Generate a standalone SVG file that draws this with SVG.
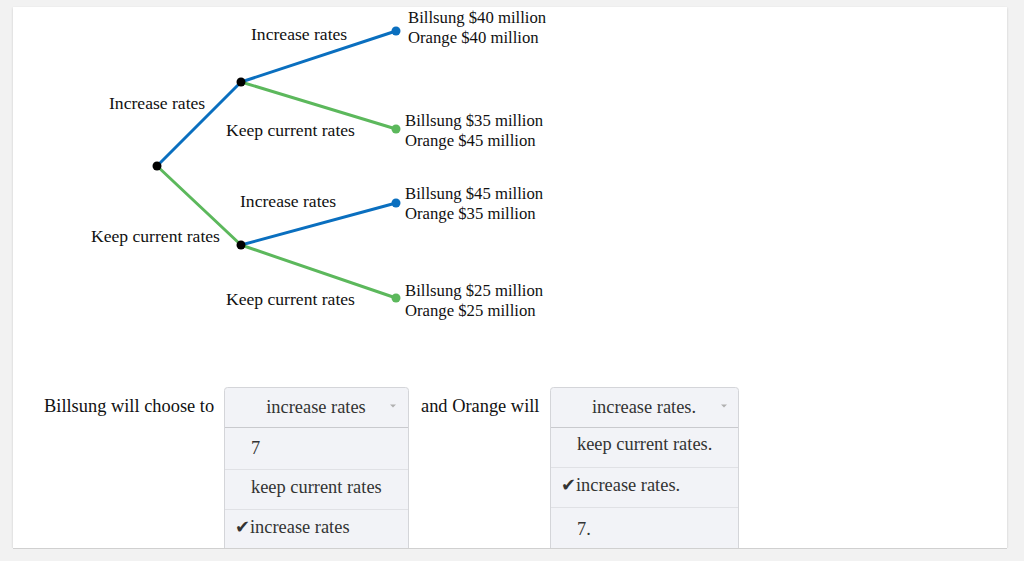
<svg xmlns="http://www.w3.org/2000/svg" width="1024" height="561" viewBox="0 0 1024 561">
<style>
text{font-family:"Liberation Serif","Times New Roman",serif;fill:#111}
.t{font-size:17.6px}
.v{font-size:16.7px}
.d{font-size:18.4px}
.dd{font-size:18.4px;fill:#333}
.b{stroke:#0a6fbf;stroke-width:3;fill:none;stroke-linecap:round}
.g{stroke:#5cb85c;stroke-width:3;fill:none;stroke-linecap:round}
.box{fill:#f2f3f7;stroke:#d4d5d9;stroke-width:1}
.sep{stroke:#e0e1e5;stroke-width:1}
</style>
<defs>
<filter id="sh" x="-5%" y="-5%" width="110%" height="110%"><feDropShadow dx="0" dy="1" stdDeviation="1" flood-color="#000" flood-opacity="0.18"/></filter>
</defs>
<rect width="1024" height="561" fill="#f2f2f2"/>
<rect x="13" y="7" width="994" height="541" fill="#fff" filter="url(#sh)"/>
<g id="connectors">
<line class="b" x1="157" y1="166" x2="241" y2="82"/>
<line class="g" x1="157" y1="166" x2="241" y2="245"/>
<line class="b" x1="241" y1="82" x2="396" y2="31"/>
<line class="g" x1="241" y1="82" x2="396" y2="129"/>
<line class="b" x1="241" y1="245" x2="396" y2="203"/>
<line class="g" x1="241" y1="245" x2="396" y2="298"/>
</g>
<g id="root"><circle cx="157" cy="166" r="4.5" fill="#000"/></g>
<g id="mid1"><circle cx="241" cy="82" r="4.5" fill="#000"/></g>
<g id="mid2"><circle cx="241" cy="245" r="4.5" fill="#000"/></g>
<g id="leaf1"><circle cx="396" cy="31" r="4.5" fill="#0a6fbf"/><text class="v" x="408" y="23">Billsung $40 million</text><text class="v" x="408" y="43">Orange $40 million</text></g>
<g id="leaf2"><circle cx="396" cy="129" r="4.5" fill="#5cb85c"/><text class="v" x="405" y="126">Billsung $35 million</text><text class="v" x="405" y="146">Orange $45 million</text></g>
<g id="leaf3"><circle cx="396" cy="203" r="4.5" fill="#0a6fbf"/><text class="v" x="405" y="199">Billsung $45 million</text><text class="v" x="405" y="219">Orange $35 million</text></g>
<g id="leaf4"><circle cx="396" cy="298" r="4.5" fill="#5cb85c"/><text class="v" x="405" y="296">Billsung $25 million</text><text class="v" x="405" y="316">Orange $25 million</text></g>
<g id="labels">
<text class="t" x="109" y="109">Increase rates</text>
<text class="t" x="91" y="242">Keep current rates</text>
<text class="t" x="251" y="40">Increase rates</text>
<text class="t" x="226" y="136">Keep current rates</text>
<text class="t" x="240" y="207">Increase rates</text>
<text class="t" x="226" y="305">Keep current rates</text>
</g>
<g id="sentence">
<text class="d" x="44" y="412">Billsung will choose to</text>
<text class="d" x="421" y="412">and Orange will</text>
</g>
<g id="dropdown1">
<rect class="box" x="224.5" y="387.5" width="184" height="170" rx="3"/>
<line class="sep" x1="225" y1="427.5" x2="408" y2="427.5" style="stroke:#c9cace"/>
<line class="sep" x1="225" y1="469.5" x2="408" y2="469.5"/>
<line class="sep" x1="225" y1="509.5" x2="408" y2="509.5"/>
<text class="dd" x="316" y="413" text-anchor="middle">increase rates</text>
<path d="M390 404.5h6l-3 3z" fill="#b0b0b0"/>
<text class="dd" x="251" y="454">7</text>
<text class="dd" x="251" y="493">keep current rates</text>
<text class="dd" x="235" y="533">✔increase rates</text>
</g>
<g id="dropdown2">
<rect class="box" x="550.5" y="387.5" width="188" height="170" rx="3"/>
<line class="sep" x1="551" y1="427.5" x2="738" y2="427.5" style="stroke:#c9cace"/>
<line class="sep" x1="551" y1="467.5" x2="738" y2="467.5"/>
<line class="sep" x1="551" y1="507.5" x2="738" y2="507.5"/>
<text class="dd" x="644" y="413" text-anchor="middle">increase rates.</text>
<path d="M721 404.5h6l-3 3z" fill="#b0b0b0"/>
<text class="dd" x="577" y="450">keep current rates.</text>
<text class="dd" x="561" y="491">✔increase rates.</text>
<text class="dd" x="577" y="535">7.</text>
</g>
<rect x="0" y="548" width="1024" height="13" fill="#f2f2f2"/>
<line x1="13" y1="548.5" x2="1007" y2="548.5" stroke="#d0d0d0"/>
</svg>
